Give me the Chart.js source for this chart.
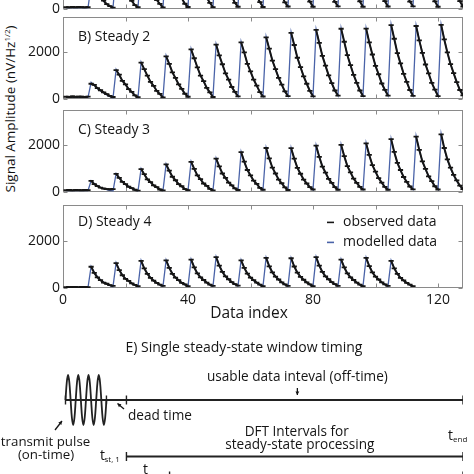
<!DOCTYPE html>
<html>
<head>
<meta charset="utf-8">
<script src="https://cdn.jsdelivr.net/npm/chart.js@4.4.1/dist/chart.umd.min.js"></script>
<style>
  html, body { margin:0; padding:0; background:#fff; }
  #wrap { position:absolute; left:0; top:0; width:474px; height:474px; overflow:hidden; background:#fff; font-family:'Open Sans', sans-serif; }
  #wrap canvas { position:absolute; left:0; }
  #ytitle { position:absolute; left:10px; top:109px; transform:translate(-50%,-50%) rotate(-90deg); white-space:nowrap; font-size:13.5px; color:#111; line-height:1; }
  #ytitle sup { font-size:8px; vertical-align:5px; }
</style>
</head>
<body>
<div id="wrap">
  <div id="ytitle">Signal Amplitude (nV/Hz<sup>1/2</sup>)</div>
</div>
<script>
// ---------------- DATA ----------------
const xTickMarks = [0, 20, 40, 60, 80, 100, 120];
const xTickLabels = [0, 40, 80, 120];
const yTickLabels = [0, 2000];
const panelLabels = ['A) Steady 1', 'B) Steady 2', 'C) Steady 3', 'D) Steady 4'];
const seriesNames = ['observed data', 'modelled data'];
const xAxisTitle = 'Data index';

const steady1Observed = [
  60,50,70,55,65,60,50,65,
  980,760,620,430,340,190,110,40,
  1570,1230,940,730,500,330,150,60,
  1880,1460,1150,840,620,370,200,50,
  2170,1700,1300,1000,690,450,210,70,
  2380,1850,1450,1070,780,470,250,60,
  2570,2010,1540,1180,820,530,250,80,
  2680,2090,1630,1200,870,530,280,70,
  2780,2170,1670,1270,880,570,270,90,
  2880,2250,1750,1290,940,570,300,80,
  2980,2330,1790,1360,950,610,290,100,
  2970,2350,1810,1340,970,590,310,80,
  3080,2400,1870,1380,1000,610,320,90,
  3070,2420,1850,1400,980,630,300,100,
  3090,2410,1870,1390,1000,620,310,80,
  3080,2430,1850,1400,990,630,320,90
];
const steady1Modelled = [
  30,30,30,30,30,30,30,30,
  1000,780,600,450,320,200,100,30,
  1600,1248,960,720,512,320,160,48,
  1900,1482,1140,855,608,380,190,57,
  2200,1716,1320,990,704,440,220,66,
  2400,1872,1440,1080,768,480,240,72,
  2600,2028,1560,1170,832,520,260,78,
  2700,2106,1620,1215,864,540,270,81,
  2800,2184,1680,1260,896,560,280,84,
  2900,2262,1740,1305,928,580,290,87,
  3000,2340,1800,1350,960,600,300,90,
  3000,2340,1800,1350,960,600,300,90,
  3100,2418,1860,1395,992,620,310,93,
  3100,2418,1860,1395,992,620,310,93,
  3100,2418,1860,1395,992,620,310,93,
  3100,2418,1860,1395,992,620,310,93
];
const steady2Observed = [
  80,70,90,75,85,80,70,85,
  640,590,450,360,270,190,120,70,
  1230,1030,760,610,410,290,140,60,
  1550,1270,990,720,550,330,200,50,
  1820,1500,1130,890,610,420,210,80,
  2120,1740,1350,990,750,460,270,70,
  2330,1860,1480,1090,820,500,290,100,
  2420,1990,1500,1170,820,560,280,90,
  2640,2150,1640,1270,890,600,310,110,
  2830,2310,1760,1360,960,640,330,100,
  2960,2400,1840,1420,1000,670,350,130,
  3010,2450,1870,1440,1020,680,350,110,
  3020,2420,1900,1410,1050,650,380,130,
  3170,2580,1960,1520,1070,720,370,120,
  3130,2510,1970,1470,1090,680,390,110,
  3180,2550,1990,1490,1100,710,370,140
];
const steady2Modelled = [
  50,50,50,50,50,50,50,50,
  700,560,434,329,238,154,84,28,
  1260,1008,781,592,428,277,151,50,
  1570,1256,973,738,534,345,188,63,
  1850,1480,1147,870,629,407,222,74,
  2150,1720,1333,1011,731,473,258,86,
  2350,1880,1457,1105,799,517,282,94,
  2450,1960,1519,1152,833,539,294,98,
  2670,2136,1655,1255,908,587,320,107,
  2860,2288,1773,1344,972,629,343,114,
  2990,2392,1854,1405,1017,658,359,120,
  3040,2432,1885,1429,1034,669,365,122,
  3040,2432,1885,1429,1034,669,365,122,
  3200,2560,1984,1504,1088,704,384,128,
  3160,2528,1959,1485,1074,695,379,126,
  3200,2560,1984,1504,1088,704,384,128
];
const steady3Observed = [
  60,70,50,65,60,55,70,60,
  460,320,240,170,130,110,100,110,
  760,590,420,320,210,150,80,40,
  970,750,530,410,270,190,90,50,
  1170,900,640,490,320,230,110,60,
  1280,980,700,540,350,250,120,50,
  1420,1090,780,590,390,270,140,70,
  1700,1290,930,700,470,330,160,80,
  1880,1430,1030,780,520,360,180,70,
  1870,1420,1020,770,520,350,190,90,
  1980,1500,1080,820,550,380,190,80,
  2010,1530,1100,830,560,380,200,90,
  2080,1580,1140,860,580,390,200,80,
  2260,1710,1240,930,630,420,220,100,
  2370,1800,1300,980,660,450,230,90,
  2470,1880,1390,1030,720,480,260,110
];
const steady3Modelled = [
  40,40,40,40,40,40,40,40,
  470,348,259,188,132,85,47,19,
  780,577,429,312,218,140,78,31,
  990,733,545,396,277,178,99,40,
  1190,881,655,476,333,214,119,48,
  1300,962,715,520,364,234,130,52,
  1440,1066,792,576,403,259,144,58,
  1720,1273,946,688,482,310,172,69,
  1900,1406,1045,760,532,342,190,76,
  1890,1399,1040,756,529,340,189,76,
  2000,1480,1100,800,560,360,200,80,
  2030,1502,1117,812,568,365,203,81,
  2100,1554,1155,840,588,378,210,84,
  2280,1687,1254,912,638,410,228,91,
  2390,1769,1315,956,669,430,239,96,
  2490,1843,1370,996,697,448,249,100
];
const steady4Observed = [
  40,35,45,40,30,45,40,35,
  900,640,450,330,230,180,120,90,
  1050,760,540,390,300,200,130,80,
  1150,830,600,430,310,220,140,90,
  1170,850,600,440,330,220,150,80,
  1200,870,620,450,340,230,140,90,
  1310,950,680,490,370,250,160,100,
  1170,850,610,440,330,230,140,80,
  1280,920,660,480,360,240,150,90,
  1260,910,650,470,350,240,150,80,
  1310,950,680,490,370,250,160,90,
  1200,870,620,450,340,230,140,80,
  1280,930,660,480,360,240,150,90,
  1150,830,600,430,320,220,140,80
];
const steady4Modelled = [
  20,20,20,20,20,20,20,20,
  920,662,478,350,248,166,101,55,
  1070,770,556,407,289,193,118,64,
  1170,842,608,445,316,211,129,70,
  1190,857,619,452,321,214,131,71,
  1220,878,634,464,329,220,134,73,
  1330,958,692,505,359,239,146,80,
  1190,857,619,452,321,214,131,71,
  1300,936,676,494,351,234,143,78,
  1280,922,666,486,346,230,141,77,
  1330,958,692,505,359,239,146,80,
  1220,878,634,464,329,220,134,73,
  1300,936,676,494,351,234,143,78,
  1170,842,608,445,316,211,129,70
];

// Timing diagram (E): normalized transmit waveform and interval edges (time units on the panel x scale)
const pulseWave = [0,0.71,1,0.71,0,-0.71,-1,-0.71, 0,0.71,1,0.71,0,-0.71,-1,-0.71,
                   0,0.71,1,0.71,0,-0.71,-1,-0.71, 0,0.71,1,0.71,0,-0.71,-1,-0.71, 0];
const timing = { pulseStart: 0.8, pulseEnd: 13.9, usableStart: 20.3, dft2Start: 34.1, end: 128 };

// ---------------- STYLE / LAYOUT ----------------
const FONT = '"Open Sans", sans-serif';
const BLACK = '#151515';
const BLUE = '#4a63a8';
const BOX = '#8a8a8a';
const WINDOW = 8;
const wrap = document.getElementById('wrap');

function makeCanvas(top, h) {
  const c = document.createElement('canvas');
  c.width = 474; c.height = h;
  c.style.top = top + 'px';
  c.style.width = '474px'; c.style.height = h + 'px';
  wrap.appendChild(c);
  return c;
}

const panelDeco = {
  id: 'panelDeco',
  beforeDatasetsDraw(chart, args, o) {
    const { ctx, chartArea: a, scales: { x, y } } = chart;
    ctx.save();
    ctx.strokeStyle = BOX; ctx.lineWidth = 1;
    const L = Math.round(a.left) + 0.5, R = Math.round(a.right) - 0.5;
    const T = Math.round(a.top) + 0.5, B = Math.round(a.bottom) - 0.5;
    ctx.strokeRect(L, T, R - L, B - T);
    ctx.beginPath();
    xTickMarks.forEach(v => {
      const px = Math.round(x.getPixelForValue(v)) + 0.5;
      ctx.moveTo(px, B); ctx.lineTo(px, B - 4);
      ctx.moveTo(px, T); ctx.lineTo(px, T + 4);
    });
    yTickLabels.forEach(v => {
      const py = Math.round(y.getPixelForValue(v)) + 0.5;
      ctx.moveTo(L, py); ctx.lineTo(L + 4, py);
      ctx.moveTo(R, py); ctx.lineTo(R - 4, py);
    });
    ctx.stroke();
    ctx.restore();
  },
  afterDraw(chart, args, o) {
    const { ctx, chartArea: a } = chart;
    ctx.save();
    ctx.fillStyle = BLACK;
    ctx.font = '14px ' + FONT;
    ctx.textBaseline = 'alphabetic';
    ctx.textAlign = 'left';
    ctx.fillText(o.label, a.left + 15, a.top + o.labelDy);
    if (o.legend) {
      const rows = [[seriesNames[0], BLACK, 17], [seriesNames[1], BLUE, 37]];
      rows.forEach(([txt, col, dy]) => {
        ctx.strokeStyle = col; ctx.lineWidth = 1.6;
        ctx.beginPath(); ctx.moveTo(327, a.top + dy); ctx.lineTo(334, a.top + dy); ctx.stroke();
        ctx.textBaseline = 'middle';
        ctx.fillText(txt, 343, a.top + dy);
      });
    }
    if (o.xTitle) {
      ctx.font = '15.5px ' + FONT;
      ctx.textAlign = 'center'; ctx.textBaseline = 'middle';
      ctx.fillText(o.xTitle, 249, a.bottom + 26);
    }
    ctx.restore();
  }
};

function makePanel(plotTop, obs, mod, label, bottom, legend, labelDy) {
  const padTop = 10, plotH = 84, axisH = bottom ? 40 : 0, padBottom = bottom ? 0 : 10;
  const canvas = makeCanvas(plotTop - padTop, padTop + plotH + axisH + padBottom);
  const obsPts = obs.map((v, i) => ({ x: i + 1, y: v }));
  const modPts = mod.map((v, i) => ({ x: i + 1, y: v }));
  return new Chart(canvas, {
    type: 'line',
    data: {
      datasets: [
        { label: seriesNames[1], data: modPts, borderColor: BLUE, borderWidth: 1.3,
          pointRadius: 0, tension: 0, order: 2 },
        { label: seriesNames[0], data: obsPts, borderColor: BLACK, borderWidth: 2,
          pointStyle: 'line', pointRadius: 2.6, pointBorderWidth: 1.8, pointBorderColor: BLACK,
          tension: 0, order: 1,
          segment: { borderColor: c => (c.p1DataIndex % WINDOW === 0) ? 'rgba(0,0,0,0)' : BLACK } }
      ]
    },
    options: {
      responsive: false, animation: false, events: [],
      layout: { padding: { left: 0, right: 11, top: padTop, bottom: padBottom } },
      plugins: { legend: { display: false }, tooltip: { enabled: false },
                 panelDeco: { label, legend, labelDy, xTitle: bottom ? xAxisTitle : null } },
      scales: {
        x: { type: 'linear', min: 0, max: 128, display: bottom,
             afterBuildTicks: s => { s.ticks = xTickLabels.map(v => ({ value: v })); },
             afterFit: s => { s.height = axisH; },
             grid: { display: false, drawTicks: false }, border: { display: false },
             ticks: { color: BLACK, font: { family: FONT, size: 14 }, padding: 4, maxRotation: 0,
                      callback: v => String(v) } },
        y: { type: 'linear', min: 0, max: 3500,
             afterBuildTicks: s => { s.ticks = yTickLabels.map(v => ({ value: v })); },
             afterFit: s => { s.width = 63; },
             grid: { display: false, drawTicks: false }, border: { display: false },
             ticks: { color: BLACK, font: { family: FONT, size: 14 }, padding: 3,
                      callback: v => String(v) } }
      }
    },
    plugins: [panelDeco]
  });
}

makePanel(-74, steady1Observed, steady1Modelled, panelLabels[0], false, false, 23);
makePanel(16, steady2Observed, steady2Modelled, panelLabels[1], false, false, 24);
makePanel(109, steady3Observed, steady3Modelled, panelLabels[2], false, false, 24);
makePanel(204, steady4Observed, steady4Modelled, panelLabels[3], true, true, 21);

// ---------------- TIMING DIAGRAM (E) ----------------
const ROW1 = 70, ROW2 = 126.5, ROW3 = 146, AMP = 25, TICK = 4.5;
const wavePts = pulseWave.map((v, i) => ({
  x: timing.pulseStart + i * (timing.pulseEnd - timing.pulseStart) / (pulseWave.length - 1),
  y: ROW1 - AMP * v }));
function tickPts(ts, row) {
  const out = [];
  ts.forEach(t => { out.push({ x: t, y: row - TICK }, { x: t, y: row + TICK }, { x: t, y: null }); });
  return out;
}
const lineStyle = { borderColor: '#222', borderWidth: 1.8, pointRadius: 0, tension: 0, spanGaps: false };
const eCanvas = makeCanvas(330, 144);

const timingText = {
  id: 'timingText',
  afterDraw(chart) {
    const ctx = chart.ctx;
    const xs = chart.scales.x;
    ctx.save();
    ctx.fillStyle = BLACK; ctx.strokeStyle = BLACK;
    ctx.font = '14px ' + FONT; ctx.textBaseline = 'middle'; ctx.textAlign = 'center';
    ctx.fillText('E) Single steady-state window timing', 244, 18);
    ctx.font = '13.6px ' + FONT;
    ctx.fillText('usable data inteval (off-time)', xs.getPixelForValue(75), 47);
    ctx.fillText('DFT Intervals for', xs.getPixelForValue(74.8), 102);
    ctx.fillText('steady-state processing', xs.getPixelForValue(75.8), 115);
    ctx.font = '13.3px ' + FONT;
    ctx.fillText('transmit pulse', 45.5, 112);
    ctx.fillText('(on-time)', 46, 125);
    ctx.font = '13.6px ' + FONT;
    ctx.textAlign = 'left';
    ctx.fillText('dead time', 128, 86);
    // t labels
    ctx.font = '14px ' + FONT;
    ctx.fillText('t', 448, 106);
    ctx.fillText('t', 100, 126);
    ctx.fillText('t', 143, 140);
    ctx.font = '8px ' + FONT;
    ctx.fillText('end', 453, 110);
    ctx.fillText('st, 1', 104.5, 129.5);
    // arrows
    function arrow(x0, y0, x1, y1) {
      ctx.lineWidth = 1.3;
      ctx.beginPath(); ctx.moveTo(x0, y0); ctx.lineTo(x1, y1); ctx.stroke();
      const ang = Math.atan2(y1 - y0, x1 - x0), h = 4;
      ctx.beginPath();
      ctx.moveTo(x1, y1);
      ctx.lineTo(x1 - h * Math.cos(ang - 0.5), y1 - h * Math.sin(ang - 0.5));
      ctx.lineTo(x1 - h * Math.cos(ang + 0.5), y1 - h * Math.sin(ang + 0.5));
      ctx.closePath(); ctx.fill();
    }
    arrow(xs.getPixelForValue(75), 58, xs.getPixelForValue(75), 65);
    arrow(124, 79, 117.5, 73.5);
    arrow(55, 100, 62, 91);
    ctx.restore();
  }
};

new Chart(eCanvas, {
  type: 'line',
  data: {
    datasets: [
      Object.assign({ data: wavePts }, lineStyle, { tension: 0.35 }),
      Object.assign({ data: [{ x: timing.pulseStart, y: ROW1 }, { x: timing.end, y: ROW1 }] }, lineStyle),
      Object.assign({ data: tickPts([timing.pulseStart, timing.pulseEnd, timing.usableStart, timing.end], ROW1) }, lineStyle, { borderWidth: 1.4 }),
      Object.assign({ data: [{ x: timing.usableStart, y: ROW2 }, { x: timing.end, y: ROW2 }] }, lineStyle),
      Object.assign({ data: tickPts([timing.usableStart, timing.end], ROW2) }, lineStyle, { borderWidth: 1.4 }),
      Object.assign({ data: [{ x: timing.dft2Start, y: ROW3 }, { x: timing.end, y: ROW3 }] }, lineStyle),
      Object.assign({ data: tickPts([timing.dft2Start, timing.end], ROW3) }, lineStyle, { borderWidth: 1.4 })
    ]
  },
  options: {
    responsive: false, animation: false, events: [],
    layout: { padding: { left: 63, right: 11, top: 0, bottom: 0 } },
    plugins: { legend: { display: false }, tooltip: { enabled: false } },
    scales: {
      x: { type: 'linear', min: 0, max: 128, display: false },
      y: { type: 'linear', min: 0, max: 144, reverse: true, display: false }
    }
  },
  plugins: [timingText]
});
</script>
</body>
</html>
